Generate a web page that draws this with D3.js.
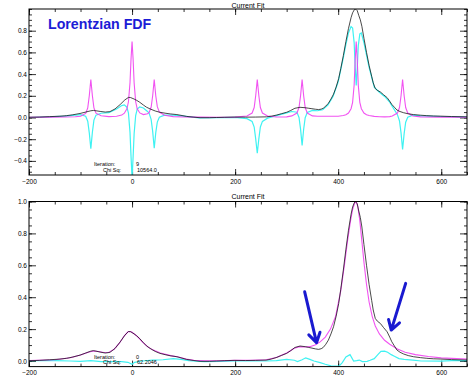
<!DOCTYPE html>
<html><head><meta charset="utf-8">
<script src="https://cdn.jsdelivr.net/npm/d3@7"></script>
<style>body{margin:0;background:#fff;} svg{display:block;font-family:"Liberation Sans",Arial,sans-serif;}</style>
</head><body><svg id="c" width="474" height="386"></svg>
<script>
// ---------------- data ----------------
const xMajorTicks = [-200, 0, 200, 400, 600];
const topYTicks = [-0.4, -0.2, 0.0, 0.2, 0.4, 0.6, 0.8];
const bottomYTicks = [0.0, 0.2, 0.4, 0.6, 0.8, 1.0];
const panelTitle = "Current Fit";
const headline = "Lorentzian FDF";
const statLabels = ["Iteration:", "Chi Sq:"];
const topStatValues = ["9", "10564.0"];
const bottomStatValues = ["0", "62.2046"];

// observed spectrum (black), same in both panels
const observed = [[-200,.002],[-180,.004],[-160,.008],[-140,.012],[-127,.017],[-115,.025],[-101,.037],[-90,.05],[-80,.062],[-75,.065],[-70,.062],[-62,.056],[-52,.05],[-43,.054],[-33,.079],[-23,.12],[-14,.162],[-7,.185],[-3,.184],[0,.178],[4,.17],[9,.158],[15,.14],[22,.115],[28,.095],[35,.079],[45,.06],[54,.048],[64,.04],[74,.033],[87,.027],[97,.018],[106,.01],[120,.003],[132,-.002],[150,-.002],[164,0],[180,.002],[198,.004],[220,.003],[240,.004],[261,.006],[270,.012],[281,.023],[290,.035],[300,.048],[308,.065],[316,.085],[326,.094],[336,.09],[343,.085],[349,.081],[356,.076],[362,.073],[367,.077],[371,.085],[376,.105],[381,.131],[386,.17],[391,.215],[396,.28],[401,.36],[405,.45],[410,.57],[415,.70],[420,.82],[425,.92],[428,.965],[431,.99],[433,1.0],[435,.995],[437,.985],[440,.94],[443,.90],[446,.84],[450,.73],[455,.60],[460,.48],[465,.38],[468,.32],[472,.267],[476,.25],[482,.235],[488,.21],[495,.183],[500,.15],[504,.121],[509,.095],[514,.069],[520,.055],[527,.044],[536,.034],[546,.027],[560,.021],[572,.017],[585,.014],[598,.0125],[620,.009],[650,.006]];

// top panel: sharp Lorentzian fit (magenta) and residual (cyan)
const topFit = [[-200,.002],[-160,.003],[-130,.004],[-110,.007],[-100,.011],[-90,.038],[-86,.089],[-83,.20],[-80,.35],[-77,.20],[-74,.089],[-70,.04],[-60,.016],[-45,.008],[-30,.012],[-20,.022],[-15,.04],[-10,.08],[-7,.145],[-4,.32],[-2,.54],[0,.70],[2,.54],[4,.32],[7,.145],[10,.08],[15,.042],[22,.027],[30,.034],[33,.045],[37,.094],[40,.20],[43,.35],[46,.20],[49,.10],[53,.05],[63,.02],[80,.008],[100,.004],[130,.003],[170,.002],[200,.003],[223,.014],[233,.041],[237,.092],[240,.203],[243,.35],[246,.203],[249,.092],[253,.041],[263,.013],[280,.005],[300,.006],[310,.015],[320,.041],[324,.092],[327,.20],[330,.35],[333,.20],[336,.092],[340,.041],[350,.015],[360,.012],[370,.012],[380,.012],[390,.012],[400,.012],[410,.019],[415,.026],[420,.041],[425,.081],[428,.14],[431,.30],[433,.53],[435,.70],[437,.53],[439,.30],[442,.14],[445,.081],[450,.041],[455,.026],[460,.019],[470,.01],[480,.007],[490,.006],[500,.008],[505,.013],[515,.041],[519,.092],[522,.20],[525,.35],[528,.20],[531,.092],[535,.041],[545,.013],[560,.006],[600,.003],[650,.002]];
const topResidual = [[-200,0],[-160,.005],[-130,.012],[-110,.022],[-100,.027],[-90,.012],[-86,-.034],[-83,-.142],[-80,-.288],[-77,-.136],[-74,-.024],[-70,.022],[-60,.039],[-45,.044],[-30,.078],[-20,.11],[-15,.117],[-10,.095],[-7,.04],[-4,-.135],[-2,-.357],[0,-.56],[2,-.366],[4,-.15],[7,.018],[10,.077],[15,.098],[22,.088],[30,.056],[33,.04],[37,-.017],[40,-.128],[43,-.284],[46,-.139],[49,-.042],[53,.002],[63,.021],[80,.022],[100,.012],[130,-.004],[170,-.001],[200,.001],[223,-.011],[233,-.037],[237,-.088],[240,-.199],[243,-.33],[246,-.198],[249,-.087],[253,-.036],[263,-.006],[280,.017],[300,.042],[310,.055],[320,.049],[324,0],[327,-.107],[330,-.257],[333,-.108],[336,-.002],[340,.046],[350,.065],[360,.062],[370,.071],[380,.114],[390,.193],[400,.328],[410,.551],[415,.674],[420,.779],[425,.839],[428,.825],[431,.69],[433,.47],[435,.295],[437,.455],[439,.66],[442,.77],[445,.779],[450,.689],[455,.574],[460,.461],[470,.28],[480,.233],[490,.194],[500,.142],[505,.102],[515,.026],[519,-.032],[522,-.142],[525,-.295],[528,-.149],[531,-.044],[535,.002],[545,.022],[560,.015],[600,.009],[650,.004]];

// bottom panel: broad fit (magenta) and residual (cyan)
const bottomFit = [[-200,.003],[-150,.008],[-120,.02],[-100,.038],[-85,.055],[-75,.063],[-65,.06],[-55,.053],[-45,.055],[-35,.073],[-25,.11],[-15,.158],[-8,.183],[-3,.185],[0,.18],[5,.168],[10,.155],[20,.12],[30,.09],[40,.07],[55,.05],[75,.034],[90,.025],[105,.012],[120,.005],[140,.002],[170,.002],[200,.004],[230,.005],[260,.008],[280,.022],[300,.05],[315,.08],[325,.09],[335,.088],[345,.09],[355,.1],[365,.12],[375,.15],[385,.2],[395,.28],[405,.44],[412,.6],[418,.75],[424,.88],[428,.95],[432,.99],[435,1.0],[438,.97],[442,.88],[446,.75],[450,.62],[455,.48],[460,.37],[466,.28],[472,.22],[480,.17],[490,.13],[500,.105],[515,.075],[530,.055],[550,.04],[575,.028],[600,.02],[650,.012]];
const bottomResidual = [[-200,.003],[-150,.002],[-120,0],[-100,-.002],[-80,.003],[-60,-.004],[-40,-.003],[-20,-.004],[-8,-.008],[0,-.02],[5,-.008],[20,0],[40,.005],[60,.008],[80,.015],[95,.01],[110,.002],[140,-.004],[170,-.003],[200,0],[230,0],[260,0],[280,.003],[300,.01],[315,.005],[321,-.003],[330,.008],[337,.02],[345,.01],[353,0],[365,-.01],[375,-.02],[386,-.03],[395,-.032],[402,-.03],[408,-.01],[415,.025],[423,.04],[430,0],[436,.002],[441,.006],[447,-.004],[456,-.002],[462,.005],[470,.015],[477,.04],[483,.06],[490,.062],[496,.055],[503,.04],[509,.03],[518,.015],[528,.01],[545,.005],[561,0],[600,-.001],[620,.003],[650,.003]];

// annotation arrows (data coords of bottom panel): [tailX, tailY, tipX, tipY]
const arrows = [[335, .434, 358, .115], [531, .487, 503, .194]];

// ---------------- drawing ----------------
const svg = d3.select("#c");
const L = 29, R = 467;
const x = d3.scaleLinear().domain([-200, 650]).range([L, R]);
const xMinor = d3.range(-200, 651, 50);

const panels = [
  {top: 9, bottom: 175, domain: [-0.53, 1.0], yTicks: topYTicks, fit: topFit, res: topResidual, stats: topStatValues, titleY: 7.5, statY: [166, 172]},
  {top: 201.5, bottom: 366.6, domain: [-0.035, 1.0], yTicks: bottomYTicks, fit: bottomFit, res: bottomResidual, stats: bottomStatValues, titleY: 198.5, statY: [358.5, 364]}
];

panels.forEach((p, i) => {
  const y = d3.scaleLinear().domain(p.domain).range([p.bottom, p.top]);
  p.y = y;
  const g = svg.append("g");
  const clipId = "clip" + i;
  svg.append("clipPath").attr("id", clipId).append("rect")
    .attr("x", L).attr("y", p.top).attr("width", R - L).attr("height", p.bottom - p.top);

  const yMinor = d3.range(Math.ceil(p.domain[0] / 0.05) * 0.05, p.domain[1] + 1e-9, 0.05);

  const styleAxis = a => { a.select(".domain").remove(); a.selectAll("line").attr("stroke", "#000").attr("stroke-width", 0.8); a.selectAll("text").attr("font-size", 6.5).attr("fill", "#000"); };

  // bottom axis
  g.append("g").attr("transform", `translate(0,${p.bottom})`)
    .call(d3.axisBottom(x).tickValues(xMinor).tickSize(-3).tickFormat("")).call(styleAxis);
  g.append("g").attr("transform", `translate(0,${p.bottom})`)
    .call(d3.axisBottom(x).tickValues(xMajorTicks).tickSize(-6).tickPadding(4).tickFormat(d3.format("d"))).call(styleAxis);
  // top axis
  g.append("g").attr("transform", `translate(0,${p.top})`)
    .call(d3.axisTop(x).tickValues(xMinor).tickSize(-3).tickFormat("")).call(styleAxis);
  g.append("g").attr("transform", `translate(0,${p.top})`)
    .call(d3.axisTop(x).tickValues(xMajorTicks).tickSize(-6).tickFormat("")).call(styleAxis);
  // left axis
  g.append("g").attr("transform", `translate(${L},0)`)
    .call(d3.axisLeft(y).tickValues(yMinor).tickSize(-3).tickFormat("")).call(styleAxis);
  g.append("g").attr("transform", `translate(${L},0)`)
    .call(d3.axisLeft(y).tickValues(p.yTicks).tickSize(-7).tickPadding(2).tickFormat(d3.format(".1f"))).call(styleAxis);
  // right axis
  g.append("g").attr("transform", `translate(${R},0)`)
    .call(d3.axisRight(y).tickValues(yMinor).tickSize(-3).tickFormat("")).call(styleAxis);
  g.append("g").attr("transform", `translate(${R},0)`)
    .call(d3.axisRight(y).tickValues(p.yTicks).tickSize(-7).tickFormat("")).call(styleAxis);

  const line = d3.line().x(d => x(d[0])).y(d => y(d[1]));
  const plot = g.append("g").attr("clip-path", `url(#${clipId})`);
  plot.append("path").datum(p.res).attr("d", line).attr("fill", "none").attr("stroke", "#3ff2f2").attr("stroke-width", 1.2);
  plot.append("path").datum(p.fit).attr("d", line).attr("fill", "none").attr("stroke", "#f040f0").attr("stroke-width", 1.1).attr("opacity", 0.9);
  plot.append("path").datum(observed).attr("d", line).attr("fill", "none").attr("stroke", "#111").attr("stroke-width", 0.9).attr("opacity", 0.85);

  // frame
  g.append("rect").attr("x", L).attr("y", p.top).attr("width", R - L).attr("height", p.bottom - p.top)
    .attr("fill", "none").attr("stroke", "#000").attr("stroke-width", 1);

  // panel title
  g.append("text").attr("x", (L + R) / 2).attr("y", p.titleY).attr("text-anchor", "middle")
    .attr("font-size", 7).attr("fill", "#000").text(panelTitle);

  // stats
  statLabels.forEach((s, k) => {
    g.append("text").attr("x", k === 0 ? 94 : 103).attr("y", p.statY[k]).attr("font-size", 5.5).attr("fill", "#000").text(s);
    g.append("text").attr("x", k === 0 ? 136 : 137).attr("y", p.statY[k]).attr("font-size", 5.5).attr("fill", "#000").text(p.stats[k]);
  });
});

// headline
svg.append("text").attr("x", 48).attr("y", 29).attr("font-size", 14.2).attr("font-weight", "bold")
  .attr("fill", "#1c1cd6").text(headline);

// arrows in bottom panel
const yb = panels[1].y;
arrows.forEach(a => {
  const x1 = x(a[0]), y1 = yb(a[1]), x2 = x(a[2]), y2 = yb(a[3]);
  const ang = Math.atan2(y2 - y1, x2 - x1);
  const hl = 11, spread = 0.55;
  const w1 = [x2 - hl * Math.cos(ang - spread), y2 - hl * Math.sin(ang - spread)];
  const w2 = [x2 - hl * Math.cos(ang + spread), y2 - hl * Math.sin(ang + spread)];
  svg.append("path").attr("d", `M${x1},${y1}L${x2},${y2}M${w1[0]},${w1[1]}L${x2},${y2}L${w2[0]},${w2[1]}`)
    .attr("fill", "none").attr("stroke", "#1a1ad0").attr("stroke-width", 3).attr("stroke-linecap", "round").attr("stroke-linejoin", "round");
});
</script></body></html>
